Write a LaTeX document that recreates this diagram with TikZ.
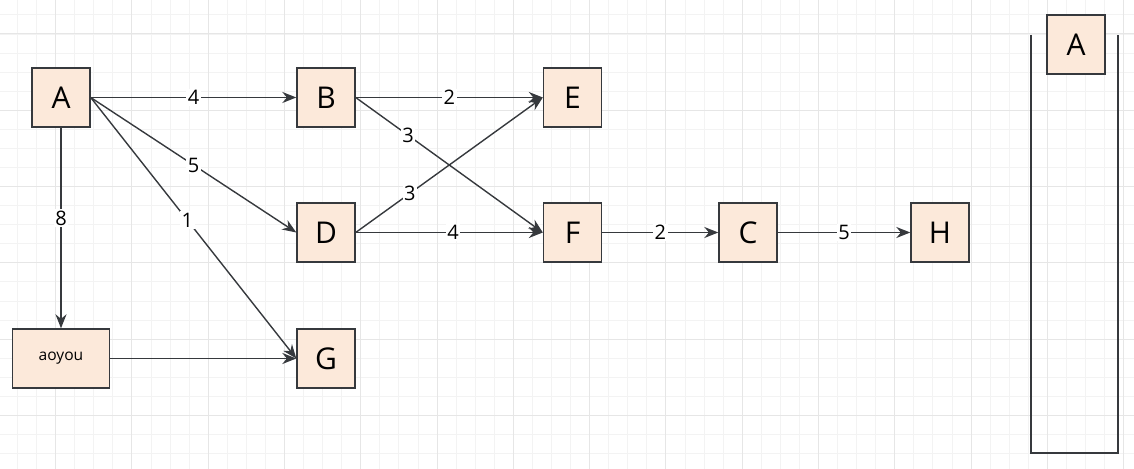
\documentclass[tikz,border=0pt]{standalone}
\usepackage{fontspec}
\setmainfont{Open Sans}
\usetikzlibrary{arrows.meta}
\definecolor{peach}{HTML}{FCE9DA}
\definecolor{edgegray}{HTML}{36393D}
\definecolor{gridminor}{HTML}{F3F3F3}
\definecolor{gridmajor}{HTML}{E6E6E6}
\tikzset{
  vertex/.style={draw=edgegray,fill=peach,line width=0.7pt,minimum width=29pt,minimum height=29.5pt,inner sep=0pt,font=\fontsize{15}{18}\selectfont},
  wide/.style={vertex,minimum width=48.5pt,font=\fontsize{7.8}{9}\selectfont},
  lbl/.style={fill=white,inner sep=0.8pt,text=black,font=\fontsize{10}{12}\selectfont},
  wall/.style={draw=edgegray,line width=0.7pt},
  every edge/.style={draw=edgegray,line width=0.7pt}
}
\begin{document}
\begin{tikzpicture}[->,>={Stealth[length=7pt,width=5.5pt]},x=0.5pt,y=-0.5pt]

\useasboundingbox (0,0) rectangle (1134,469);
% grid
\foreach \i in {0,...,60} \draw[-,gridminor,line width=0.5pt] ({-1.5+\i*19.07},0) -- ++(0,469);
\foreach \i in {0,...,25} \draw[-,gridminor,line width=0.5pt] (0,{-4.1+\i*19.07}) -- ++(1134,0);
\foreach \i in {-1,...,14} \draw[-,gridmajor,line width=0.5pt] ({55.7+\i*76.28},0) -- ++(0,469);
\foreach \i in {0,...,5} \draw[-,gridmajor,line width=0.5pt] (0,{34+\i*76.28}) -- ++(1134,0);

\node[vertex](A) at (61,97.5){A};
\node[vertex](B)[right of=A,node distance=132.5pt]{B};
\node[vertex](E)[right of=B,node distance=123.25pt]{E};
\node[vertex](D)[below of=B,node distance=67.5pt]{D};
\node[vertex](F)[below of=E,node distance=67.5pt]{F};
\node[vertex](G)[below of=D,node distance=63pt]{G};
\node[wide](aoyou)[below of=A,node distance=130.5pt]{aoyou};
\node[vertex](C)[right of=F,node distance=87.75pt]{C};
\node[vertex](H)[right of=C,node distance=96pt]{H};

% stack
\draw[-,wall](1031,35) -- (1031,453) -- (1118,453) -- (1118,35);
\node[vertex](top) at (1076,44.5){A};

\path
	(A.east)edge node[lbl]{4}(B.west)
	(A.east)edge node[lbl]{5}(D.west)
	(A.east)edge node[lbl,pos=0.47]{1}(G.west)
	(A.south)edge node[lbl,pos=0.45]{8}(aoyou.north)
	(aoyou.east)edge(G.west)
	(B.east)edge node[lbl]{2}(E.west)
	(B.east)edge node[lbl,pos=0.28]{3}(F.west)
	(D.east)edge node[lbl,pos=0.29]{3}(E.west)
	(D.east)edge node[lbl,pos=0.52]{4}(F.west)
	(F.east)edge node[lbl]{2}(C.west)
	(C.east)edge node[lbl]{5}(H.west);

\end{tikzpicture}
\end{document}
